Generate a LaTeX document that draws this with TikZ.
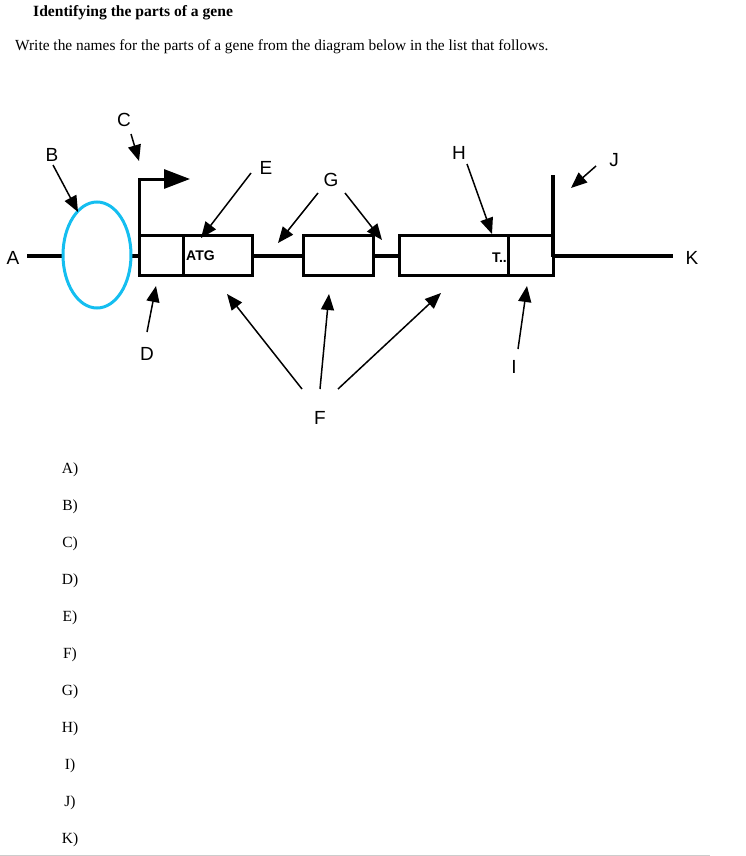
\documentclass[tikz,border=0pt]{standalone}
\usepackage{fontspec}
\setmainfont{Liberation Serif}
\newfontfamily\lab{Liberation Sans}
\usetikzlibrary{arrows.meta,shapes.geometric}
\definecolor{cyanb}{RGB}{20,190,240}
\begin{document}
\begin{tikzpicture}[x=1pt,y=-1pt,
  thick3/.style={line width=3.4pt},
  boxs/.style={draw,line width=3pt,minimum height=40pt,inner sep=0pt,anchor=west},
  ptr/.style={line width=1.5pt,-{Triangle[length=16pt,width=13pt]}},
  lbl/.style={font=\lab\fontsize{19}{19}\selectfont,inner sep=0pt},
  itm/.style={font=\fontsize{15.5}{15.5}\selectfont,inner sep=0pt}]
\useasboundingbox (0,0) rectangle (745,856);
\node[anchor=west,inner sep=0pt,font=\bfseries\fontsize{15.6}{15.6}\selectfont] (title) at (33,13) {Identifying the parts of a gene};
\node[anchor=west,inner sep=0pt,font=\fontsize{15.4}{15.4}\selectfont] (sub) at (15,47) {Write the names for the parts of a gene from the diagram below in the list that follows.};
% DNA line
\coordinate (a0) at (27,256);
\coordinate (kend) at (673,256);
\draw[thick3] (a0) -- (kend);
\node[draw=cyanb,fill=white,line width=3pt,ellipse,minimum width=68pt,minimum height=106pt,inner sep=0pt] (enh) at (97,255) {};
\node[boxs,fill=white,minimum width=44pt] (b1) at (138,255) {};
\node[boxs,fill=white,minimum width=69pt] (b2) at (182,255) {};
\node[font=\lab\bfseries\fontsize{14}{14}\selectfont,anchor=west,inner sep=0pt] (atg) at (186,256) {ATG};
\node[boxs,fill=white,minimum width=70pt] (b3) at (302,255) {};
\node[boxs,fill=white,minimum width=109pt] (b4) at (398,255) {};
\node[boxs,fill=white,minimum width=45pt] (b5) at (507,255) {};
\node[font=\lab\bfseries\fontsize{14}{14}\selectfont,anchor=east,inner sep=0pt] (tt) at (507,258) {T..};
\coordinate (tv) at (553,175);
\coordinate (tb) at (553,257);
\draw[line width=3.5pt] (tv) -- (tb);
% promoter arrow
\coordinate (p0) at (139,236);
\coordinate (p1) at (139,179);
\coordinate (p2) at (190,179);
\draw[line width=3pt,-{Triangle[length=26pt,width=19pt]}] (p0) -- (p1) -- (p2);
% labels
\node[lbl] (A) at (13,258) {A};
\node[lbl] (B) at (52,155) {B};
\node[lbl] (C) at (124,120) {C};
\node[lbl] (D) at (147,354) {D};
\node[lbl] (E) at (266,168) {E};
\node[lbl] (F) at (320,418) {F};
\node[lbl] (G) at (331,180) {G};
\node[lbl] (H) at (459,153) {H};
\node[lbl] (I) at (514,367) {I};
\node[lbl] (J) at (614,160) {J};
\node[lbl] (K) at (692,258) {K};
\coordinate (tB) at (78,212);
\coordinate (tC) at (139,161);
\coordinate (tD) at (156,286);
\coordinate (tE) at (201,238);
\coordinate (tG1) at (278,243);
\coordinate (tG2) at (382,240);
\coordinate (tH) at (492,234);
\coordinate (tJ) at (571,188);
\coordinate (tI) at (527,286);
\coordinate (tF1) at (227,294);
\coordinate (tF2) at (329,294);
\coordinate (tF3) at (441,293);
\draw[ptr] (53,165) -- (tB);
\draw[ptr] (131,134) -- (tC);
\draw[ptr] (147,332) -- (tD);
\draw[ptr] (251,173) -- (tE);
\draw[ptr] (318,193) -- (tG1);
\draw[ptr] (345,193) -- (tG2);
\draw[ptr] (467,164) -- (tH);
\draw[ptr] (596,166) -- (tJ);
\draw[ptr] (518,349) -- (tI);
\draw[ptr] (302,389) -- (tF1);
\draw[ptr] (320,389) -- (tF2);
\draw[ptr] (338,389) -- (tF3);
% list
\foreach \L [count=\i from 0] in {A,B,C,D,E,F,G,H,I,J,K}
  \node[itm] (li\L) at (70,470+37*\i) {\L)};
\coordinate (bl0) at (0,855);
\coordinate (bl1) at (710,855);
\draw[gray!40,line width=0.6pt] (bl0) -- (bl1);
\end{tikzpicture}
\end{document}
